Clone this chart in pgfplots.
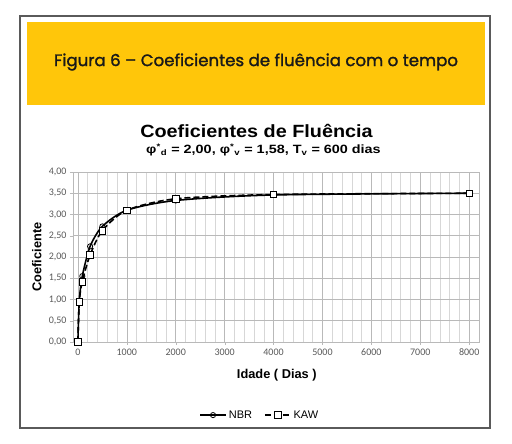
\documentclass[border=0pt]{standalone}
\usepackage{pgfplots}
\pgfplotsset{compat=1.18}
\usepackage{fontspec}
\setmainfont{Carlito}
\newfontfamily\arial{Liberation Sans}
\newfontfamily\gothic{Poppins}[FakeBold=1.5]
\definecolor{banner}{RGB}{255,198,10}
\definecolor{framegray}{RGB}{90,90,90}
\definecolor{gridgray}{RGB}{185,185,185}
\definecolor{minorgray}{RGB}{215,215,215}
\definecolor{ticktext}{RGB}{89,89,89}
\begin{document}
\begin{tikzpicture}[x=1pt,y=1pt]
\fill[white] (0,0) rectangle (512,444);
\draw[framegray, line width=1.4pt] (20,16) rectangle (490,428);
\fill[banner] (27,339) rectangle (485,422);
\node[font=\gothic\fontsize{16.6}{19}\selectfont, text=black!90] at (256,382)
  {Figura 6 – Coeficientes de fluência com o tempo};
\node[font=\arial\bfseries\fontsize{17.7}{20}\selectfont, xscale=1.12, transform shape] at (256.5,313)
  {Coeficientes de Fluência};
\node[font=\arial\bfseries\fontsize{12}{14}\selectfont, xscale=1.2, transform shape] at (263.5,294)
  {φ\textsuperscript{*}\textsubscript{d} = 2,00, φ\textsuperscript{*}\textsubscript{v} = 1,58, T\textsubscript{v} = 600 dias};
\begin{axis}[
  at={(73pt,102pt)}, anchor=south west,
  width=406pt, height=170pt, scale only axis,
  xmin=-100, xmax=8200, ymin=0, ymax=4,
  xtick={0,1000,...,8000}, ytick={0,0.5,...,4},
  minor x tick num=4,
  grid=both,
  major grid style={gridgray, line width=0.6pt},
  minor grid style={minorgray, line width=0.5pt},
  axis line style={gridgray, line width=0.7pt},
  tick style={gridgray},
  major tick length=3pt, minor tick length=0pt,
  tick align=outside, xtick pos=bottom, ytick pos=left,
  /pgf/number format/assume math mode=true,
  xticklabel style={font=\fontsize{10}{12}\selectfont, text=ticktext,
    /pgf/number format/1000 sep={}},
  yticklabel style={font=\fontsize{10}{12}\selectfont, text=ticktext,
    /pgf/number format/.cd, fixed, fixed zerofill, precision=2, use comma},
  xlabel={Idade ( Dias )},
  ylabel={Coeficiente},
  xlabel style={font=\arial\bfseries\fontsize{12.8}{15}\selectfont,
    at={(axis description cs:0.502,-0.194)}, anchor=center},
  ylabel style={font=\arial\bfseries\fontsize{12.8}{15}\selectfont,
    at={(axis description cs:-0.089,0.5)}, anchor=center},
  legend columns=2,
  legend style={at={(axis description cs:0.46,-0.43)}, anchor=center,
    draw=none, fill=none, font=\arial\fontsize{11}{13}\selectfont,
    /tikz/every even column/.append style={column sep=10pt}},
  legend image code/.code={
    \draw[#1] (0pt,0pt) -- (26pt,0pt);
    \draw[#1, solid] plot coordinates {(13pt,0pt)};
  },
]
\addplot[black, line width=1.6pt, smooth, tension=0.45,
  mark=o, mark size=2.6pt, mark options={fill=white, line width=0.8pt, solid}]
  coordinates {
  (0,0) (28,0.95) (90,1.55) (250,2.25) (500,2.72)
  (1000,3.10) (2000,3.33) (4000,3.46) (8000,3.50)
};
\addlegendentry{NBR}
\addplot[black, line width=1.6pt, dash pattern=on 6pt off 3pt, smooth, tension=0.45,
  mark=square*, mark size=3.3pt, mark options={fill=white, line width=0.8pt, solid}]
  coordinates {
  (0,0) (28,0.95) (90,1.42) (250,2.05) (500,2.62)
  (1000,3.10) (2000,3.37) (4000,3.47) (8000,3.50)
};
\addlegendentry{KAW}
\end{axis}
\end{tikzpicture}
\end{document}
